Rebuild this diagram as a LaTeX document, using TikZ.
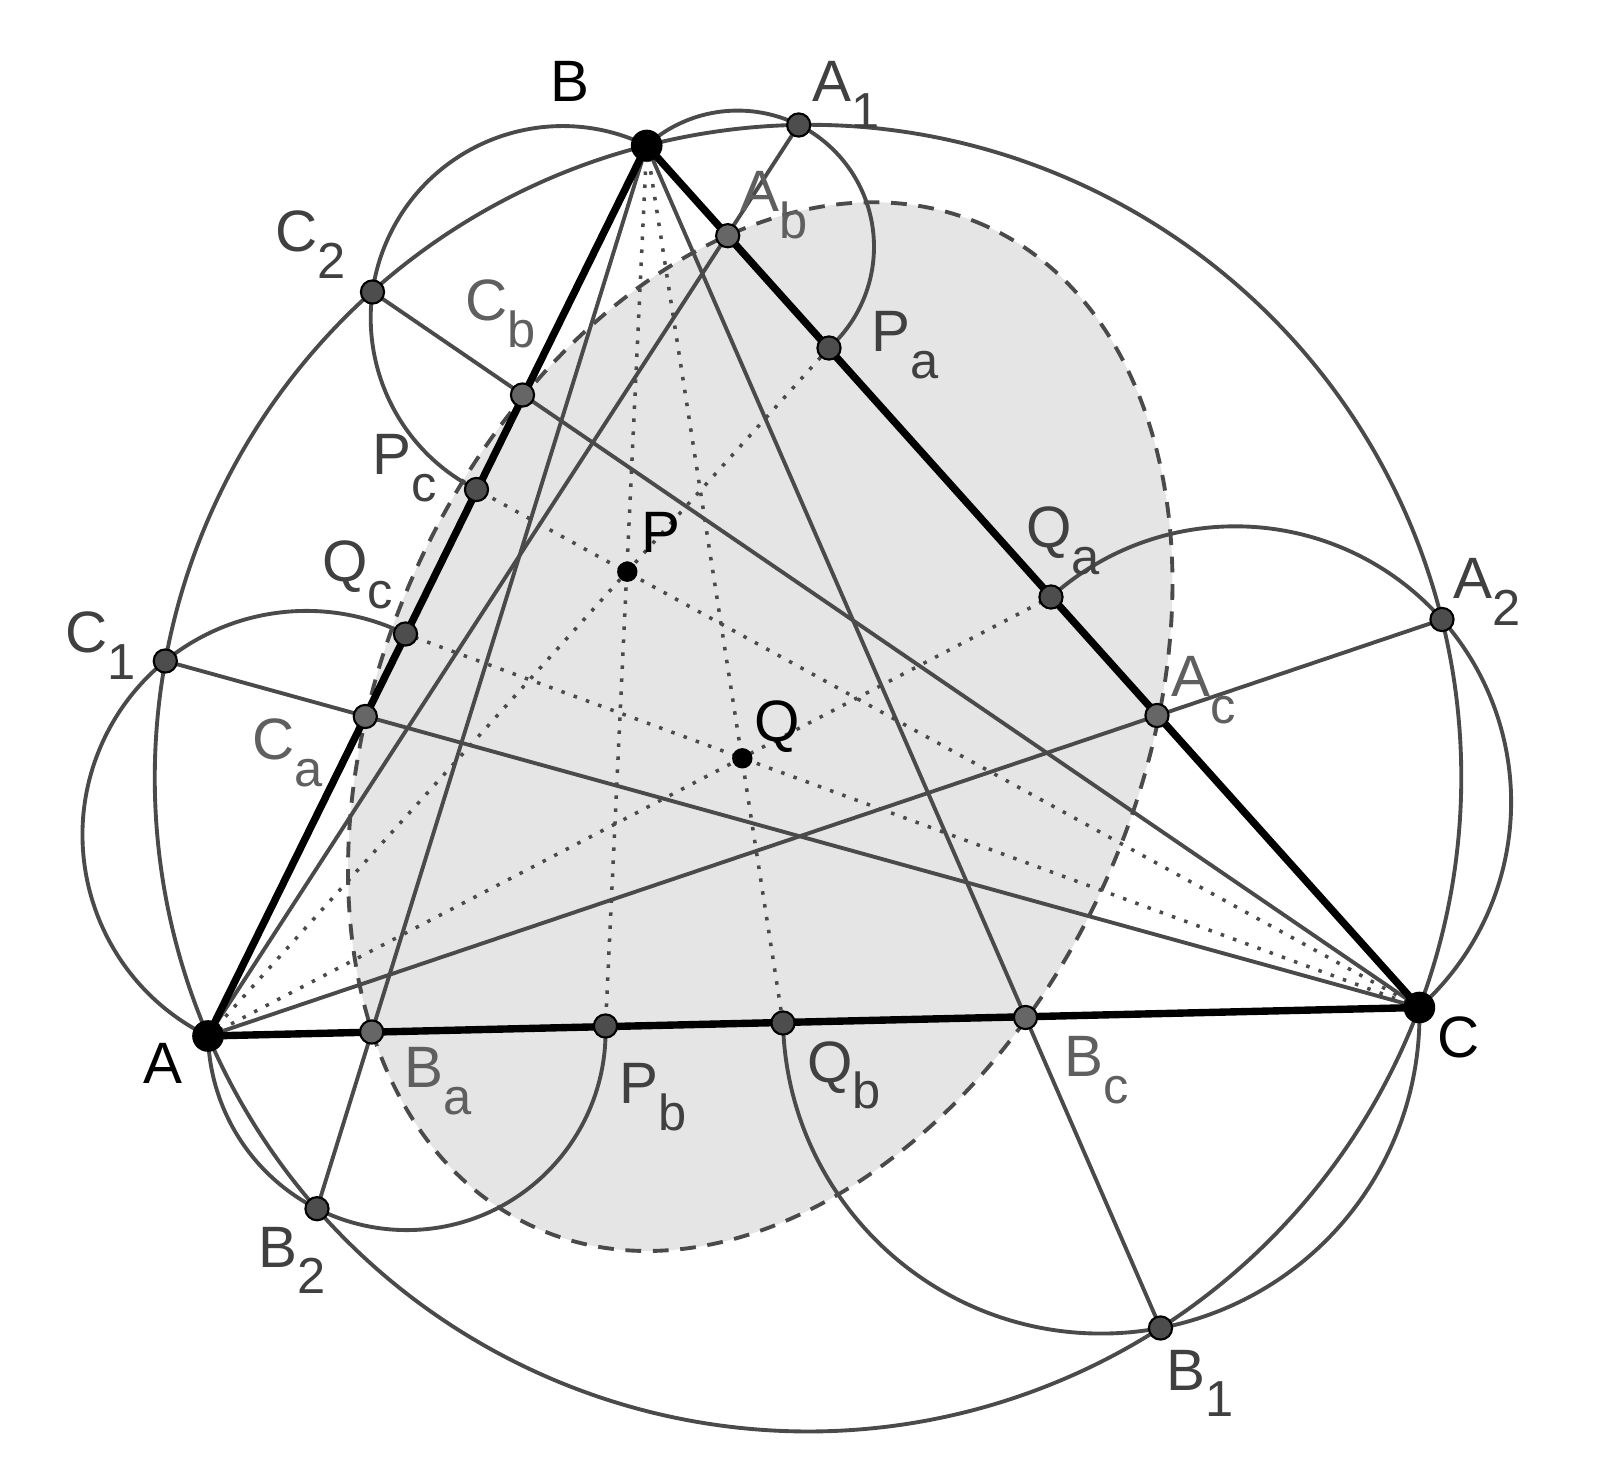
\documentclass[tikz,border=0pt]{standalone}
\usepackage{fontspec}
\setmainfont{Liberation Sans}
\usetikzlibrary{backgrounds}
\definecolor{lin}{HTML}{4A4A4A}
\definecolor{ptdark}{HTML}{4D4D4D}
\definecolor{ptmid}{HTML}{666666}
\definecolor{labdark}{HTML}{404040}
\definecolor{labmid}{HTML}{5F5F5F}
\definecolor{shade}{HTML}{E5E5E5}
\newcommand{\sbs}[1]{\kern-0.1pt\raisebox{-7.6pt}{\fontsize{14.4}{14.4}\selectfont #1}}
\newcommand{\circarc}[3]{%
  \pgfpointanchor{#1}{center}\pgfgetlastxy{\xa}{\ya}%
  \pgfpointanchor{#2}{center}\pgfgetlastxy{\xb}{\yb}%
  \pgfpointanchor{#3}{center}\pgfgetlastxy{\xc}{\yc}%
  \pgfmathsetmacro{\cax}{\xa/28.4527}\pgfmathsetmacro{\cay}{\ya/28.4527}%
  \pgfmathsetmacro{\cbx}{\xb/28.4527}\pgfmathsetmacro{\cby}{\yb/28.4527}%
  \pgfmathsetmacro{\ccx}{\xc/28.4527}\pgfmathsetmacro{\ccy}{\yc/28.4527}%
  \pgfmathsetmacro{\dd}{2*(\cax*(\cby-\ccy)+\cbx*(\ccy-\cay)+\ccx*(\cay-\cby))}%
  \pgfmathsetmacro{\sa}{\cax*\cax+\cay*\cay}%
  \pgfmathsetmacro{\sb}{\cbx*\cbx+\cby*\cby}%
  \pgfmathsetmacro{\sc}{\ccx*\ccx+\ccy*\ccy}%
  \pgfmathsetmacro{\ux}{(\sa*(\cby-\ccy)+\sb*(\ccy-\cay)+\sc*(\cay-\cby))/\dd}%
  \pgfmathsetmacro{\uy}{(\sa*(\ccx-\cbx)+\sb*(\cax-\ccx)+\sc*(\cbx-\cax))/\dd}%
  \pgfmathsetmacro{\rr}{veclen(\cax-\ux,\cay-\uy)}%
  \pgfmathsetmacro{\aone}{atan2(\cay-\uy,\cax-\ux)}%
  \pgfmathsetmacro{\atwo}{atan2(\ccy-\uy,\ccx-\ux)}%
  \pgfmathsetmacro{\atwo}{\dd>0 ? (\atwo<\aone ? \atwo+360 : \atwo) : (\atwo>\aone ? \atwo-360 : \atwo)}%
  \draw[thinline] (\cax,\cay) arc[start angle=\aone,end angle=\atwo,radius=\rr];%
}
\tikzset{
  thinline/.style={draw=lin,line width=1.1pt},
  thickline/.style={draw=black,line width=2.1pt},
  dotline/.style={draw=lin,line width=1pt,dash pattern=on 1pt off 2.7pt},
  ptbase/.style={circle,inner sep=0pt,minimum size=6.6pt,draw=black,line width=0.6pt},
  ptvertex/.style={circle,inner sep=0pt,minimum size=9pt,fill=black},
  ptcentre/.style={circle,inner sep=0pt,minimum size=5.8pt,fill=black},
  ptd/.style={ptbase,fill=ptdark},
  ptm/.style={ptbase,fill=ptmid},
  lbase/.style={anchor=base west,inner sep=0pt,font=\fontsize{16.6}{16.6}\selectfont},
  lk/.style={lbase,text=black},
  ld/.style={lbase,text=labdark},
  lm/.style={lbase,text=labmid},
}
\begin{document}
\begin{tikzpicture}[x=0.01cm,y=-0.01cm,yshift=14.57cm]
\useasboundingbox (0,0) rectangle (1600,1457);
% points
\node[ptvertex] (A) at (208,1036) {};
\node[ptvertex] (B) at (646.7,145.5) {};
\node[ptvertex] (C) at (1419.4,1007.5) {};
\node[ptcentre] (P) at (627.3,571.7) {};
\node[ptcentre] (Q) at (742.3,758.3) {};
\node[ptd] (A1) at (798.7,125) {};
\node[ptm] (Ab) at (727.7,235.7) {};
\node[ptd] (Pa) at (829,348) {};
\node[ptd] (Qa) at (1051,597) {};
\node[ptm] (Ac) at (1157,715.5) {};
\node[ptd] (A2) at (1442,619.5) {};
\node[ptd] (C2) at (372.5,292) {};
\node[ptm] (Cb) at (522.5,395) {};
\node[ptd] (Pc) at (476.5,489.5) {};
\node[ptd] (Qc) at (405.5,634) {};
\node[ptm] (Ca) at (365.3,716.5) {};
\node[ptd] (C1) at (165.3,661) {};
\node[ptm] (Ba) at (371.7,1032) {};
\node[ptd] (Pb) at (605.5,1026) {};
\node[ptd] (Qb) at (783,1023) {};
\node[ptm] (Bc) at (1025.5,1017.5) {};
\node[ptd] (B2) at (317,1208.7) {};
\node[ptd] (B1) at (1160.5,1328) {};
% labels
\node[lk] (lA) at (143,1083) {A};
\node[lk] (lB) at (550,102) {B};
\node[lk] (lC) at (1437,1058) {C};
\node[lk] (lP) at (641,553) {P};
\node[lk] (lQ) at (754,742) {Q};
\node[ld] (lA1) at (812,102) {A\sbs{1}};
\node[lm] (lAb) at (740,212) {A\sbs{b}};
\node[ld] (lPa) at (871,352) {P\sbs{a}};
\node[ld] (lQa) at (1026,548) {Q\sbs{a}};
\node[lm] (lAc) at (1171,697) {A\sbs{c}};
\node[ld] (lA2) at (1453,599) {A\sbs{2}};
\node[ld] (lC2) at (275,252) {C\sbs{2}};
\node[lm] (lCb) at (465,321) {C\sbs{b}};
\node[ld] (lPc) at (372,474.5) {P\sbs{c}};
\node[ld] (lQc) at (322,582) {Q\sbs{c}};
\node[lm] (lCa) at (252,760) {C\sbs{a}};
\node[ld] (lC1) at (65,653) {C\sbs{1}};
\node[lm] (lBa) at (404,1088) {B\sbs{a}};
\node[ld] (lPb) at (619,1104) {P\sbs{b}};
\node[ld] (lQb) at (807,1082) {Q\sbs{b}};
\node[lm] (lBc) at (1064,1077) {B\sbs{c}};
\node[ld] (lB2) at (258,1267) {B\sbs{2}};
\node[ld] (lB1) at (1166,1390) {B\sbs{1}};
\begin{pgfonlayer}{background}
\begin{scope}[x=1cm,y=1cm,yshift=-14.57cm]
% conic
\draw[fill=shade,draw=lin,line width=1.1pt,dash pattern=on 4.5pt off 3.3pt,shift={(7.598,7.308)},rotate=65.75]
  (0,0) ellipse [x radius=5.488,y radius=3.782];
% circles
\circarc{A}{C1}{B}
\circarc{B}{A2}{C}
\circarc{A}{B1}{C}
\circarc{A}{C1}{Qc}
\circarc{B}{C2}{Pc}
\circarc{B}{A1}{Pa}
\circarc{Qa}{A2}{C}
\circarc{Pb}{B2}{A}
\circarc{Qb}{B1}{C}
% dotted cevians
\draw[dotline] (A.center) -- (Pa.center);
\draw[dotline] (A.center) -- (Qa.center);
\draw[dotline] (B.center) -- (Pb.center);
\draw[dotline] (B.center) -- (Qb.center);
\draw[dotline] (C.center) -- (Pc.center);
\draw[dotline] (C.center) -- (Qc.center);
% solid cevians
\draw[thinline] (A.center) -- (A1.center);
\draw[thinline] (A.center) -- (A2.center);
\draw[thinline] (B.center) -- (B1.center);
\draw[thinline] (B.center) -- (B2.center);
\draw[thinline] (C.center) -- (C1.center);
\draw[thinline] (C.center) -- (C2.center);
% triangle
\draw[thickline] (A.center) -- (B.center) -- (C.center) -- cycle;
\end{scope}
\end{pgfonlayer}
\end{tikzpicture}
\end{document}
